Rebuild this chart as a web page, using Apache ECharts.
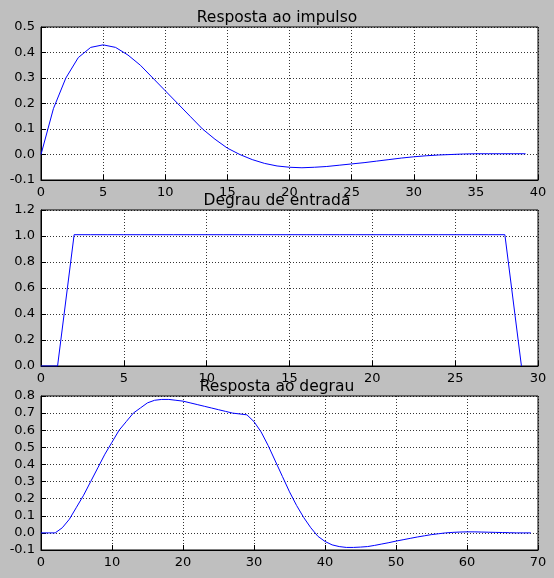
<!DOCTYPE html>
<html><head><meta charset="utf-8">
<script src="https://cdn.jsdelivr.net/npm/echarts@6/dist/echarts.min.js"></script>
<style>html,body{margin:0;padding:0;background:#bfbfbf}#c{width:554px;height:578px}</style>
</head><body><div id="c"></div>
<script>
// valores
var impulso = [0.0,0.18,0.30,0.38,0.42,0.43,0.42,0.39,0.35,0.30,0.25,0.20,0.15,0.10,0.06,0.025,0.0,-0.02,-0.035,-0.045,-0.05,-0.052,-0.05,-0.047,-0.042,-0.037,-0.032,-0.026,-0.02,-0.014,-0.009,-0.005,-0.002,0.0,0.002,0.003,0.003,0.003,0.003,0.003];
var degrau = [0,0,1.01,1.01,1.01,1.01,1.01,1.01,1.01,1.01,1.01,1.01,1.01,1.01,1.01,1.01,1.01,1.01,1.01,1.01,1.01,1.01,1.01,1.01,1.01,1.01,1.01,1.01,1.01,0];
var saida = [0,0,0,0.03,0.08,0.15,0.22,0.30,0.38,0.46,0.53,0.60,0.65,0.70,0.73,0.76,0.775,0.78,0.78,0.775,0.77,0.76,0.75,0.74,0.73,0.72,0.71,0.70,0.695,0.69,0.65,0.59,0.51,0.42,0.33,0.24,0.16,0.09,0.03,-0.02,-0.05,-0.07,-0.08,-0.085,-0.085,-0.083,-0.08,-0.073,-0.065,-0.057,-0.048,-0.04,-0.032,-0.024,-0.017,-0.01,-0.005,0.0,0.003,0.005,0.006,0.006,0.005,0.004,0.003,0.002,0.001,0.0,0.0,0.0];
var titulos = ['Resposta ao impulso','Degrau de entrada','Resposta ao degrau'];

function pares(a){ return a.map(function(v,i){ return [i,v]; }); }

var font = 'DejaVu Sans';
var grids = [
  {left:41,right:16,top:27,height:153},
  {left:41,right:16,top:210,height:156},
  {left:41,right:16,top:396,height:154}
];
var xs = [[0,40,5],[0,30,5],[0,70,10]];
var ys = [[-0.1,0.5,0.1],[0,1.2,0.2],[-0.1,0.8,0.1]];
var dados = [impulso, degrau, saida];

function eixo(g, r, isY){
  return {
    type:'value', gridIndex:g, min:r[0], max:r[1], interval:r[2],
    axisLine:{show:true,onZero:false,lineStyle:{color:'#000',width:1}},
    axisTick:{show:true,inside:true,length:5,lineStyle:{color:'#000'}},
    axisLabel:{color:'#000',fontFamily:font,fontSize:13,margin:6,
      formatter: isY ? function(v){return v.toFixed(1);} : function(v){return String(v);}},
    splitLine:{show:true,lineStyle:{color:'#000',type:[1,2],width:0.8}}
  };
}

var opt = {
  backgroundColor:'#bfbfbf',
  animation:false,
  title: titulos.map(function(t,i){
    return {text:t,left:'center',top:grids[i].top-22,
      textStyle:{fontFamily:font,fontSize:15.5,fontWeight:'normal',color:'#000'}};
  }),
  grid: grids.map(function(g){ return Object.assign({show:true,backgroundColor:'#fff',borderColor:'#000',borderWidth:1},g); }),
  xAxis: xs.map(function(r,i){ return eixo(i,r,false); }),
  yAxis: ys.map(function(r,i){ return eixo(i,r,true); }),
  series: dados.map(function(d,i){
    return {type:'line',xAxisIndex:i,yAxisIndex:i,data:pares(d),showSymbol:false,
      lineStyle:{color:'#0000ff',width:1}};
  })
};
echarts.init(document.getElementById('c')).setOption(opt);
</script></body></html>
